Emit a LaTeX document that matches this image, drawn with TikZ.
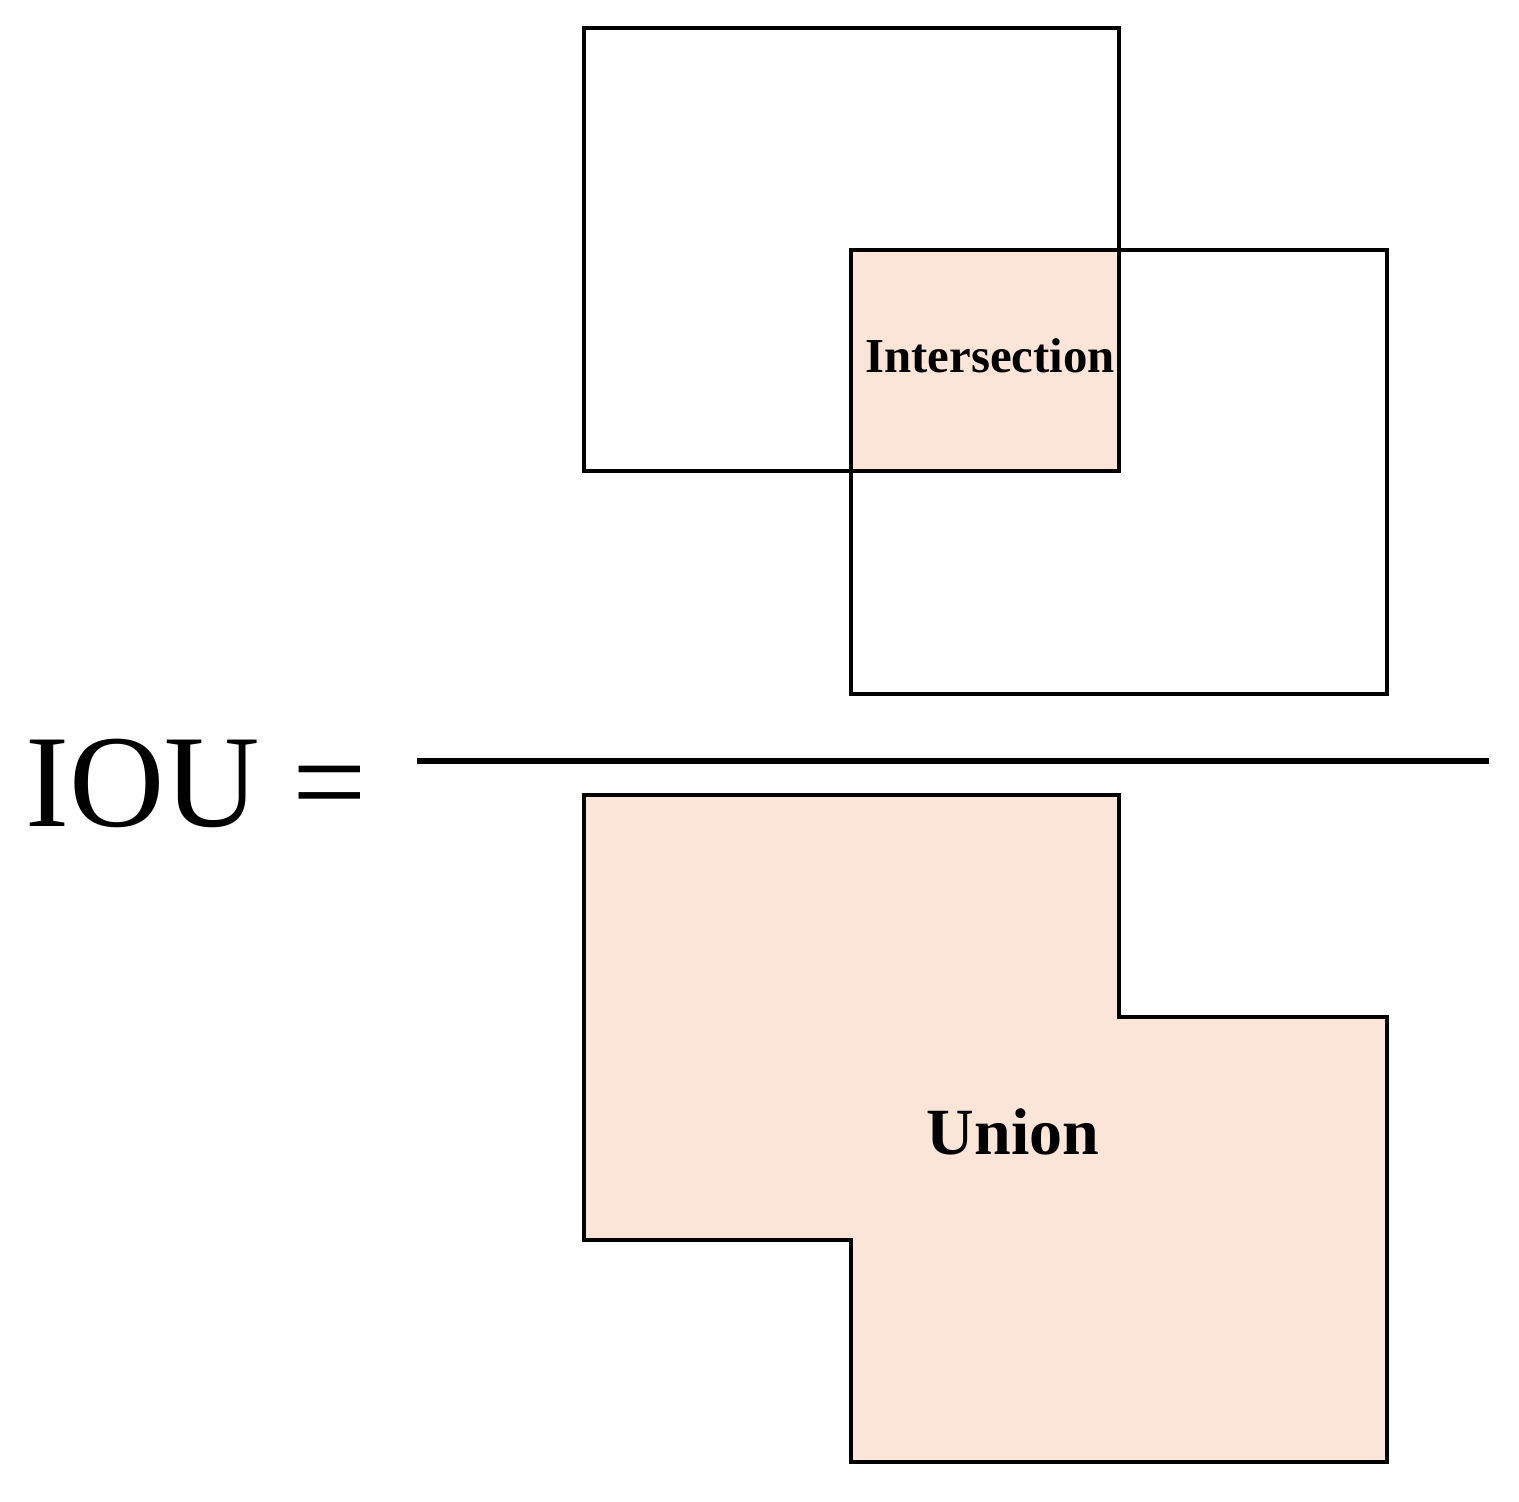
\documentclass[tikz,border=0pt]{standalone}
\usepackage{fontspec}
\setmainfont{Liberation Serif}
\definecolor{peach}{RGB}{250,229,216}
\tikzset{
  box/.style={draw=black,line width=2pt},
  lbl/.style={inner sep=0pt,font=\bfseries},
}
\begin{document}
\begin{tikzpicture}[x=0.5pt,y=-0.5pt]
\useasboundingbox (0,0) rectangle (1519,1502);
% top boxes
\fill[peach] (851,250) rectangle (1119,471);
\draw[box] (584,28) rectangle (1119,471);
\draw[box] (851,250) rectangle (1387,694);
\node[lbl,anchor=base,font=\fontsize{24.4pt}{28pt}\selectfont\bfseries] (inter) at (990,373) {Intersection};
% fraction line
\coordinate (fl) at (417,761);
\coordinate (fr) at (1489,761);
\draw[line width=3pt] (fl) -- (fr);
% IOU
\node[inner sep=0pt,anchor=base west,font=\fontsize{66pt}{70pt}\selectfont] (iou) at (25,826) {IOU =};
% union
\draw[box,fill=peach] (584,795) -- (1119,795) -- (1119,1017) -- (1387,1017) -- (1387,1462) -- (851,1462) -- (851,1240) -- (584,1240) -- cycle;
\node[lbl,anchor=base,font=\fontsize{33pt}{38pt}\selectfont\bfseries] (union) at (1013,1154) {Union};
\end{tikzpicture}
\end{document}
